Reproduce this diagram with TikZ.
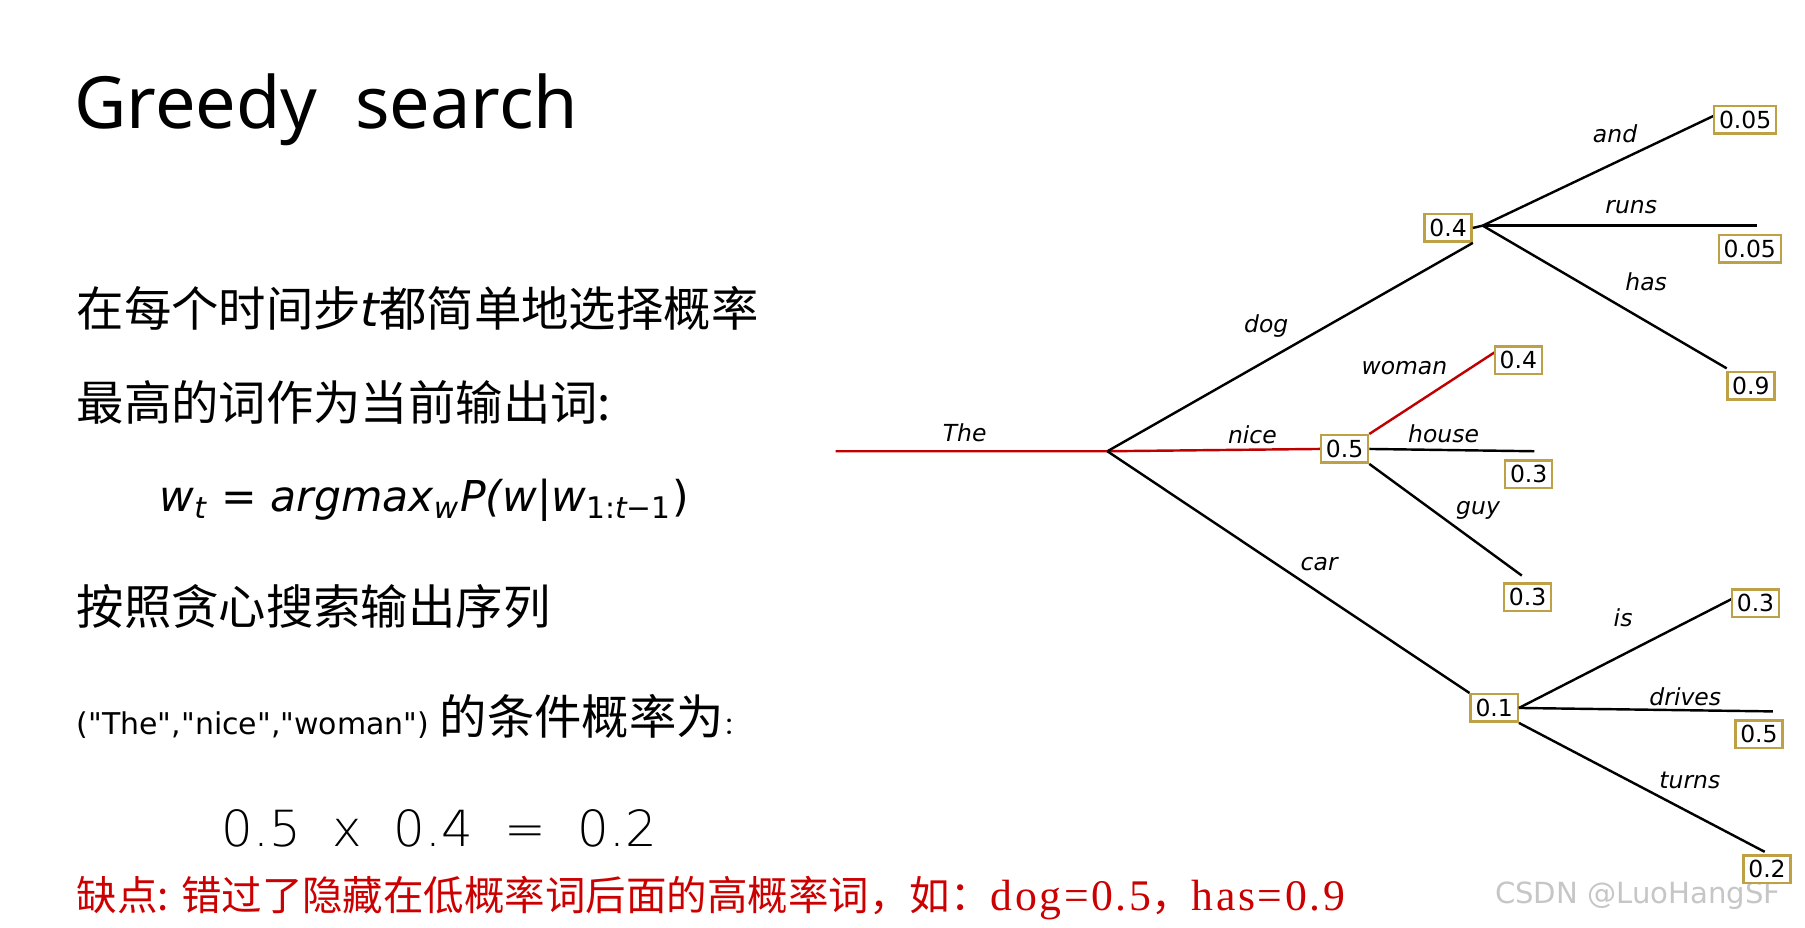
\documentclass[tikz,border=0pt]{standalone}
\usepackage{fontspec}
\setmainfont{DejaVu Sans}
\newfontfamily\cjk{Noto Sans CJK SC}
\newfontfamily\lab{DejaVu Sans}
\newfontfamily\thin{DejaVu Sans ExtraLight}
\newfontfamily\ttl{Noto Sans}
\newfontfamily\ser[LetterSpace=6]{Liberation Serif}
\definecolor{gold}{RGB}{190,160,70}
\begin{document}
\begin{tikzpicture}[x=0.01cm,y=-0.01cm,
  pbox/.style={draw=gold,line width=0.6pt,inner sep=1.2pt,font=\lab\fontsize{5.8}{6}\selectfont,fill=white},
  wl/.style={font=\lab\itshape\fontsize{5.8}{6}\selectfont},
  edge/.style={line width=0.6pt},
  redge/.style={line width=0.6pt,red!75!black},
  cn/.style={font=\cjk\fontsize{11.7}{12}\selectfont,anchor=west,inner sep=0pt}]
\useasboundingbox (0,0) rectangle (1568,806);
\node[anchor=west,inner sep=0pt,font=\ttl\fontsize{17.8}{20}\selectfont] (title) at (64,95) {Greedy\ \ search};
\node[cn] (l1) at (66,268) {在每个时间步{\lab\itshape t}都简单地选择概率};
\node[cn] (l2) at (66,350) {最高的词作为当前输出词:};
\node[anchor=west,inner sep=0pt,font=\lab\itshape\fontsize{10.5}{12}\selectfont] (f) at (138,435) {w\textsubscript{t} = argmax\textsubscript{w}P(w|w\textsubscript{\upshape 1:\itshape t\upshape −1}\upshape)};
\node[cn] (l3) at (66,527) {按照贪心搜索输出序列};
\node[cn] (l4) at (66,622) {{\lab\fontsize{7.4}{8}\selectfont ("The","nice","woman")} 的条件概率为{\fontsize{6}{6}\selectfont ：}};
\node[anchor=west,inner sep=0pt,font=\thin\fontsize{12.3}{13}\selectfont] (calc) at (192,720) {0.5\ \ x\ \ 0.4\ \ =\ \ 0.2};
\node[cn,text=red!80!black,font=\cjk\fontsize{10}{10}\selectfont] (bad) at (66,780) {缺点: 错过了隐藏在低概率词后面的高概率词，如：{\ser\fontsize{10.8}{10}\selectfont dog=0.5}，{\ser\fontsize{10.8}{10}\selectfont has=0.9}};
\node[anchor=west,inner sep=0pt,text=gray!45,font=\lab\fontsize{7.2}{8}\selectfont] (wm) at (1298,778) {CSDN @LuoHangSF};
% tree
\coordinate (s) at (726,392);
\coordinate (r) at (962,392);
\node[pbox] (b04) at (1258,198) {0.4};
\node[pbox] (b05) at (1168,390) {0.5};
\node[pbox] (b01) at (1298,615) {0.1};
\draw[redge] (s) -- (r) -- (b05.west);
\draw[edge] (r) -- (b04.south east);
\draw[edge] (r) -- (b01.north west);
\node[wl] (tThe) at (838,376) {The};
\node[wl] (tdog) at (1100,283) {dog};
\node[wl] (tnice) at (1088,378) {nice};
\node[wl] (tcar) at (1146,490) {car};
% from 0.4
\coordinate (j4) at (1288,196);
\coordinate (eand) at (1490,100);
\coordinate (eruns) at (1526,196);
\coordinate (ehas) at (1500,320);
\draw[edge] (j4) -- (eand); \draw[edge] (j4) -- (eruns); \draw[edge] (j4) -- (ehas);
\draw[edge] (b04.east) -- (j4);
\node[pbox] (a1) at (1516,104) {0.05};
\node[pbox] (a2) at (1520,216) {0.05};
\node[pbox] (a3) at (1521,335) {0.9};
\node[wl] at (1403,116) {and};
\node[wl] at (1417,180) {runs};
\node[wl] at (1430,245) {has};
% from 0.5
\coordinate (eww) at (1300,305);
\coordinate (eho) at (1333,392);
\coordinate (egu) at (1322,500);
\draw[redge] (b05.north east) -- (eww);
\draw[edge] (b05.east) -- (eho);
\draw[edge] (b05.south east) -- (egu);
\node[pbox] (c1) at (1319,313) {0.4};
\node[pbox] (c2) at (1328,412) {0.3};
\node[pbox] (c3) at (1327,519) {0.3};
\node[wl] at (1220,320) {woman};
\node[wl] at (1254,377) {house};
\node[wl] at (1284,443) {guy};
% from 0.1
\coordinate (eis) at (1505,520);
\coordinate (edr) at (1540,618);
\coordinate (etu) at (1533,740);
\draw[edge] (b01.east) -- (eis);
\draw[edge] (b01.east) -- (edr);
\draw[edge] (b01.south east) -- (etu);
\node[pbox] (d1) at (1525,524) {0.3};
\node[pbox] (d2) at (1528,638) {0.5};
\node[pbox] (d3) at (1535,755) {0.2};
\node[wl] at (1410,537) {is};
\node[wl] at (1464,605) {drives};
\node[wl] at (1468,678) {turns};
\end{tikzpicture}
\end{document}
